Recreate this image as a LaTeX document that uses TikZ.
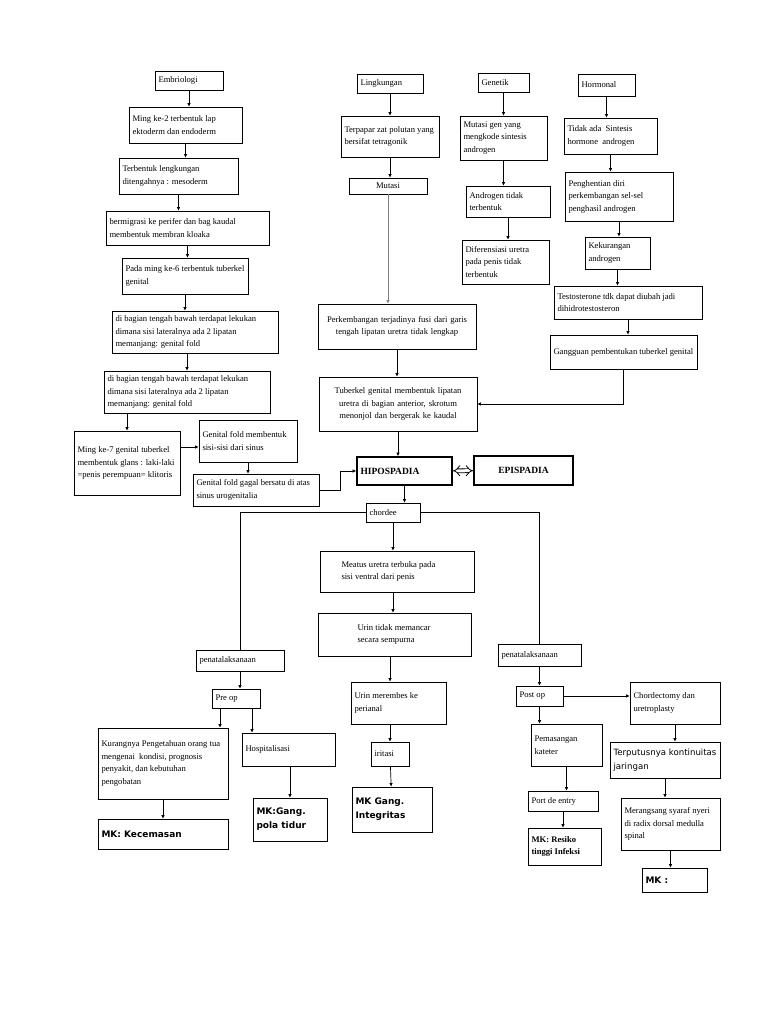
\documentclass[tikz,border=0pt]{standalone}
\usepackage{fontspec}
\setmainfont{Liberation Serif}
\newfontfamily\mksans{DejaVu Sans}
\usetikzlibrary{arrows.meta,calc}
\hyphenpenalty=10000
\exhyphenpenalty=10000
\tikzset{box/.style={draw, line width=0.8pt, align=flush left, inner xsep=3pt, inner ysep=2pt, font=\fontsize{8.6}{12.5}\selectfont}}
\tikzset{bx/.style 2 args={minimum width=#1pt, minimum height=#2pt, text width=\dimexpr#1pt-7pt\relax}}
\tikzset{mk/.style={font=\mksans\bfseries\fontsize{9}{14}\selectfont}}
\tikzset{arr/.style={line width=0.7pt, -{Latex[length=3.5pt,width=3.5pt]}}}
\tikzset{link/.style={line width=0.8pt}}
\begin{document}
\begin{tikzpicture}[x=1pt,y=-1pt]
\useasboundingbox (0,0) rectangle (768,1024);
%embriologi
\node[box,bx={68}{19}] (emb) at (189,80.5) {Embriologi};
\node[box,bx={113}{36}] (m2) at (185.5,125) {Ming ke-2 terbentuk lap ektoderm dan endoderm};
\node[box,bx={119}{36}] (lk) at (178.5,176) {Terbentuk lengkungan ditengahnya : mesoderm};
\node[box,bx={163}{34}] (mig) at (187.5,228) {bermigrasi ke perifer dan bag kaudal membentuk membran kloaka};
\node[box,bx={126}{36}] (m6) at (185,276) {Pada ming ke-6 terbentuk tuberkel genital};
\node[box,bx={166}{42}] (bag1) at (195,332) {di bagian tengah bawah terdapat lekukan \ dimana sisi lateralnya ada 2 lipatan memanjang: genital fold};
\node[box,bx={166}{42}] (bag2) at (187,392) {di bagian tengah bawah terdapat lekukan \ dimana sisi lateralnya ada 2 lipatan memanjang: genital fold};
\node[box,bx={106}{64}] (m7) at (127,463) {Ming ke-7 genital tuberkel membentuk glans : laki-laki =penis perempuan= klitoris};
\node[box,bx={98}{42}] (gf) at (248,441) {Genital fold membentuk sisi-sisi dari sinus};
\node[box,bx={126}{32}] (gfg) at (256,490) {Genital fold gagal bersatu di atas sinus urogenitalia};
%lingkungan, genetik, hormonal
\node[box,bx={66}{19}] (ling) at (390,83.5) {Lingkungan};
\node[box,bx={98}{41}] (terp) at (390,136.5) {Terpapar zat polutan yang bersifat tetragonik};
\node[box,bx={78}{16},align=center] (mut) at (388,186) {Mutasi};
\node[box,bx={158}{45},align=center] (perk) at (397,326.5) {Perkembangan terjadinya fusi dari garis tengah lipatan uretra tidak lengkap};
\node[box,bx={158}{54},align=center] (tub) at (398,404) {Tuberkel genital membentuk lipatan uretra di bagian anterior, skrotum menonjol dan bergerak ke kaudal};
\node[box,bx={51}{19}] (gen) at (503.5,82.5) {Genetik};
\node[box,bx={87}{44}] (mg) at (503.5,138) {Mutasi gen yang mengkode sintesis androgen};
\node[box,bx={84}{31}] (andr) at (508,201.5) {Androgen tidak terbentuk};
\node[box,bx={87}{44}] (dif) at (505.5,262) {Diferensiasi uretra pada penis tidak terbentuk};
\node[box,bx={57}{22}] (hor) at (606.5,85) {Hormonal};
\node[box,bx={93}{36}] (tid) at (610.5,136) {Tidak ada \ Sintesis hormone \ androgen};
\node[box,bx={108}{49}] (pen) at (619,196.5) {Penghentian diri perkembangan sel-sel penghasil androgen};
\node[box,bx={65}{32}] (kek) at (617.5,253) {Kekurangan androgen};
\node[box,bx={148}{33}] (tes) at (628,302.5) {Testosterone tdk dapat diubah jadi dihidrotestosteron};
\node[box,bx={147}{34}] (gang) at (623.5,352) {Gangguan pembentukan tuberkel genital};
%hipospadia
\node[box,bx={95}{28},line width=1.8pt,font=\bfseries\fontsize{9.5}{11}\selectfont] (hipo) at (404.5,471) {HIPOSPADIA};
\node[box,bx={99}{29},line width=1.8pt,align=center,font=\bfseries\fontsize{9.5}{11}\selectfont] (epi) at (523.5,470.5) {EPISPADIA};
\node[box,bx={54}{19}] (cho) at (393,512.5) {chordee};
\node[box,bx={154}{41}] (mea) at (397,571.5) {\hspace*{18pt}Meatus uretra terbuka pada\\\hspace*{18pt}sisi ventral dari penis};
\node[box,bx={153}{43}] (urt) at (394.5,634.5) {\hspace*{36pt}Urin tidak memancar\\\hspace*{36pt}secara sempurna};
\node[box,bx={95}{42}] (urm) at (398.5,703) {Urin merembes ke perianal};
\node[box,bx={38}{24}] (iri) at (390,754) {iritasi};
\node[box,bx={80}{45},mk] (mki) at (392,809.5) {MK Gang. Integritas};
%kiri bawah
\node[box,bx={88}{21}] (penl) at (240,660.5) {penatalaksanaan};
\node[box,bx={48}{19}] (pre) at (236,698.5) {Pre op};
\node[box,bx={130}{71}] (kur) at (163,763.5) {Kurangnya Pengetahuan orang tua mengenai \ kondisi, prognosis penyakit, dan kebutuhan pengobatan};
\node[box,bx={130}{30},mk] (mkc) at (163,834) {MK: Kecemasan};
\node[box,bx={93}{33}] (hos) at (288.5,749.5) {Hospitalisasi};
\node[box,bx={74}{43},mk] (mkp) at (290,819.5) {MK:Gang. pola tidur};
%kanan bawah
\node[box,bx={83}{22}] (penr) at (539.5,655) {penatalaksanaan};
\node[box,bx={47}{20}] (post) at (539.5,696) {Post op};
\node[box,bx={90}{42}] (chy) at (675,703) {Chordectomy dan uretroplasty};
\node[box,bx={71}{42}] (pem) at (566.5,745) {Pemasangan kateter};
\node[box,bx={70}{20}] (port) at (563,801) {Port de entry};
\node[box,bx={73}{37},font=\bfseries\fontsize{8.6}{12.5}\selectfont] (mkr) at (564.5,846.5) {MK: Resiko tinggi Infeksi};
\node[box,bx={110}{36},font=\mksans\fontsize{8.6}{14}\selectfont] (ter) at (665,760) {Terputusnya kontinuitas jaringan};
\node[box,bx={99}{52}] (mer) at (670.5,824) {Merangsang syaraf nyeri di radix dorsal medulla spinal};
\node[box,bx={65}{24},mk] (mkk) at (674.5,880) {MK :};

\draw[arr] (emb.south)--(emb.south |- m2.north);
\draw[arr] (m2.south)--(m2.south |- lk.north);
\draw[arr] (lk.south)--(lk.south |- mig.north);
\draw[arr] (mig.south)--(mig.south |- m6.north);
\draw[arr] (m6.south)--(m6.south |- bag1.north);
\draw[arr] (bag2.north |- bag1.south)--(bag2.north);
\draw[arr] (m7.north |- bag2.south)--(m7.north);
\draw[arr] ([yshift=16pt]m7.east)--([yshift=16pt]m7.east -| gf.west);
\draw[arr] (gf.south)--(gf.south |- gfg.north);
\draw[arr] (gfg.east)--++(21,0) |- (hipo.west);
\draw[arr] (ling)--(terp);
\draw[arr] (terp.south)--(terp.south |- mut.north);
\draw[arr, line width=0.4pt, black!50] (mut)--(mut |- perk.north);
\draw[arr] (perk.south)--(perk.south |- tub.north);
\draw[arr] (tub.south)--(tub.south |- hipo.north);
\draw[arr] (gen)--(mg);
\draw[arr] (mg)--(mg |- andr.north);
\draw[arr] (andr.south)--(andr.south |- dif.north);
\draw[arr] (hor.south)--(hor.south |- tid.north);
\draw[arr] (tid.south)--(tid.south |- pen.north);
\draw[arr] (pen.south)--(pen.south |- kek.north);
\draw[arr] (kek.south)--(kek.south |- tes.north);
\draw[arr] (tes.south)--(tes.south |- gang.north);
\draw[arr] (gang.south)|-(tub.east);
\draw[line width=0.8pt, double distance=3pt, {Implies}-{Implies}] (hipo)--(epi);
\draw[arr] (hipo.south)--(hipo.south |- cho.north);
\draw[link] (cho.west)-|(penl.north);
\draw[link] (cho.east)-|(penr.north);
\draw[arr] (cho)--(cho |- mea.north);
\draw[arr] (cho |- mea.south)--(cho |- urt.north);
\draw[arr] (iri |- urt.south)--(iri |- urm.north);
\draw[arr] (iri |- urm.south)--(iri);
\draw[arr] (iri)--(mki);
\draw[arr] (penl.south)--(penl.south |- pre.north);
\draw[arr] ([xshift=-16pt]pre.south)--([xshift=-16pt]pre.south |- kur.north);
\draw[arr] ([xshift=16pt]pre.south)--([xshift=16pt]pre.south |- hos.north);
\draw[arr] (kur)--(mkc);
\draw[arr] (hos.south -| mkp)--(mkp);
\draw[arr] (penr)--(post);
\draw[arr] (post.south)--(post.south |- pem.north);
\draw[arr] (post.east)--(post.east -| chy.west);
\draw[arr] (chy.south)--(chy.south |- ter.north);
\draw[arr] (ter.south)--(ter.south |- mer.north);
\draw[arr] (mer.south)--(mer.south |- mkk.north);
\draw[arr] (pem.south)--(pem.south |- port.north);
\draw[arr] (port.south)--(port.south |- mkr.north);
\end{tikzpicture}
\end{document}
